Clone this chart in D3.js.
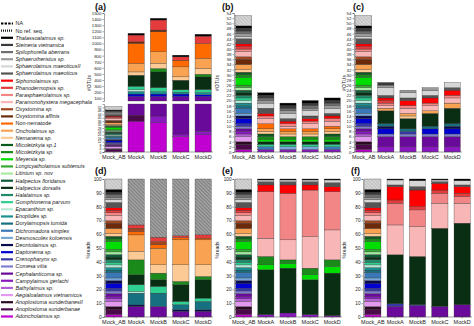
<!DOCTYPE html>
<html>
<head>
<meta charset="utf-8">
<script src="https://cdn.jsdelivr.net/npm/d3@7"></script>
<style>
  body { margin: 0; background: #fff; }
  svg { font-family: "Liberation Sans", Arial, sans-serif; }
</style>
</head>
<body>
<svg id="chart" width="474" height="326"></svg>
<script>
// species in legend order (stacked bottom -> top in reverse order)
const species = ["NA", "No ref. seq.", "Thalassoalaimus sp.", "Steineria vietnamica", "Spilophorella aberrans",
  "Sphaerotheristus sp.", "Sphaerolaimus maeoticusII", "Sphaerolaimus maeoticus", "Siphonolaimus sp.",
  "Phanodermopsis sp.", "Parasphaerolaimus sp.", "Paramonohystera megacephala", "Oxystomina sp.",
  "Oxystomina affinis", "Non-nematode", "Oncholaimus sp.", "Nemanema sp.", "Micoletzkyia sp.1",
  "Micoletzkyia sp.", "Meyersia sp.", "Longicyatholaimus subtenuis", "Litinium sp. nov", "Halipectus floridanus",
  "Halipectus dorsalis", "Halalaimus sp.", "Gomphionema parvum", "Epacanthion sp.", "Enoplides sp.",
  "Dorylaimopsis tumida", "Dichromadora simplex", "Desmoscolex koloensis", "Deontolaimus sp.", "Daptonema sp.",
  "Crenopharynx sp.", "Comesa vitia", "Cephalanticoma sp.", "Campylaimus gerlachi", "Bathylaimus sp.",
  "Aegialoalaimus vietnamicus", "Anoplostoma sunderbanesII", "Anoplostoma sunderbanae", "Adoncholaimus sp."];

const speciesColors = ["#999", "#ccc", "#000000", "#3a3a3a", "#6e6e6e", "#9a9a9a", "#d6d6d6", "#555555",
  "#ff0000", "#e43c3c", "#f28585", "#f9b6b6", "#a2461e", "#6b2a0a", "#ff6a00", "#f8a252", "#fcca94",
  "#0b5a20", "#1a8a1a", "#00dd00", "#33aa33", "#a8eaa0", "#0d5c3a", "#0a2e14", "#1f8a6a", "#2ecf90",
  "#b8e8d8", "#1a9090", "#167080", "#3a78b8", "#78a8d8", "#0a0a50", "#0000d0", "#3838a8", "#8080d0",
  "#6a0a9a", "#8a1ac0", "#b060d0", "#e499f0", "#2a0a20", "#4a0a4a", "#c000d0"];

const samples = ["Mock_AB", "MockA", "MockB", "MockC", "MockD"];

// mock community composition (#OTUs per species, legend order)
const mockAB = [0, 4, 1, 1, 1, 1, 1, 2, 1, 1, 1, 2, 1, 2, 0, 2, 1, 1, 1, 3, 1, 1, 1, 1, 1, 1, 1, 1, 1, 2,
  1, 1, 2, 1, 1, 1, 1, 1, 2, 1, 2, 1];

// [species index, value]
// (a) #OTUs, all
const aMockA = [[41, 36], [40, 7], [35, 87], [32, 40], [27, 43], [26, 27], [25, 58], [23, 181], [16, 54], [15, 139], [14, 329], [13, 26], [9, 111], [2, 28]];
const aMockB = [[41, 34], [36, 8], [35, 88], [32, 40], [27, 40], [25, 66], [23, 257], [18, 56], [16, 83], [15, 191], [14, 329], [13, 28], [9, 165], [2, 28]];
const aMockC = [[41, 18], [36, 3], [35, 109], [32, 40], [27, 30], [25, 40], [23, 157], [16, 55], [15, 164], [14, 110], [9, 54], [2, 28]];
const aMockD = [[41, 20], [36, 4], [35, 106], [32, 30], [27, 35], [25, 49], [23, 207], [18, 44], [16, 94], [15, 165], [14, 247], [9, 120], [2, 30]];
// (b) #OTUs
const bMockA = [[36, 1], [29, 1], [25, 1], [23, 1], [19, 1], [18, 1], [17, 1], [16, 1], [15, 1], [14, 2], [11, 2], [10, 1], [8, 1], [7, 2], [6, 2], [5, 1], [4, 1], [3, 1], [2, 1]];
const bMockB = [[36, 1], [30, 1], [25, 1], [23, 1], [19, 1], [18, 1], [16, 1], [15, 1], [14, 1], [11, 1], [10, 1], [8, 1], [7, 1], [6, 2], [5, 1], [4, 1], [3, 1], [2, 1]];
const bMockC = [[36, 1], [30, 1], [25, 1], [23, 1], [19, 1], [18, 1], [16, 1], [15, 1], [14, 1], [11, 2], [10, 1], [8, 1], [7, 1], [6, 2], [5, 1], [4, 1], [3, 1], [2, 1]];
const bMockD = [[36, 1], [29, 1], [25, 1], [23, 1], [19, 1], [18, 1], [17, 1], [16, 1], [15, 1], [14, 1], [11, 2], [10, 1], [8, 1], [7, 1], [6, 2], [5, 1], [4, 1], [3, 1], [2, 1]];
// (c) #OTUs
const cMockA = [[36, 2], [35, 4], [34, 1], [32, 2], [31, 1], [28, 1], [23, 5], [15, 1], [11, 1], [10, 1], [9, 1], [8, 1], [7, 1], [6, 3], [5, 1], [3, 1]];
const cMockB = [[36, 2], [35, 4], [34, 1], [33, 1], [28, 1], [23, 4], [16, 1], [15, 1], [11, 2], [10, 1], [8, 2], [7, 1], [6, 2], [5, 1]];
const cMockC = [[36, 2], [35, 4], [34, 1], [32, 2], [28, 1], [23, 5], [15, 1], [11, 2], [10, 1], [8, 2], [7, 1], [6, 2], [5, 1]];
const cMockD = [[36, 2], [35, 4], [34, 1], [32, 2], [31, 1], [28, 1], [23, 6], [15, 2], [11, 2], [10, 1], [8, 2], [7, 1], [6, 2]];
// (d) %reads
const dMockA = [[35, 7.7], [31, 1], [28, 8.6], [26, 1.2], [25, 4.9], [23, 7.2], [18, 10.8], [16, 6.1], [15, 12], [14, 2.4], [12, 2.4], [9, 2.4], [0, 33.3]];
const dMockB = [[35, 7.7], [28, 9.6], [25, 4.9], [23, 4.8], [18, 4.8], [16, 6], [15, 12.1], [14, 2.4], [12, 2.4], [9, 3.1], [0, 42.2]];
const dMockC = [[35, 4.1], [31, 1.2], [28, 3.6], [25, 2.4], [23, 12.1], [18, 2.4], [16, 12], [15, 18.1], [14, 1.7], [9, 1.2], [0, 41.2]];
const dMockD = [[35, 4.1], [31, 1.2], [28, 6], [25, 2.4], [23, 13.3], [18, 2.4], [16, 8.4], [15, 18.1], [14, 1.2], [9, 2.4], [0, 40.5]];
// (e) %reads
const eMockA = [[36, 1.7], [23, 32.5], [19, 3.6], [18, 6.1], [11, 13.2], [10, 33.7], [8, 4.9], [7, 2.3], [6, 1.3], [2, 0.7]];
const eMockB = [[36, 2.9], [23, 32.5], [19, 3.2], [18, 2.8], [11, 14.5], [10, 33.7], [8, 6.1], [7, 2.3], [6, 1.3], [2, 0.7]];
const eMockC = [[36, 1.7], [23, 25.3], [19, 3.6], [18, 4.8], [11, 22.9], [10, 33.7], [8, 3.7], [7, 2.3], [6, 1.3], [2, 0.7]];
const eMockD = [[36, 1], [23, 30.8], [19, 4.8], [18, 4.8], [11, 21.7], [10, 27.7], [8, 3.7], [7, 2.8], [6, 2], [2, 0.7]];
// (f) %reads
const fMockA = [[35, 7.7], [33, 1.9], [23, 35.5], [11, 21.6], [10, 15.7], [9, 2.4], [8, 9.7], [7, 1.2], [6, 3.6], [2, 0.7]];
const fMockB = [[35, 8.2], [33, 0.7], [23, 35], [11, 21.6], [10, 12.1], [9, 2.4], [8, 12], [7, 2.5], [6, 4.3], [2, 1.2]];
const fMockC = [[35, 7.7], [23, 56.6], [11, 18.1], [10, 7.2], [9, 2.4], [8, 4.9], [7, 1.2], [6, 1.2], [2, 0.7]];
const fMockD = [[35, 8.9], [23, 59.1], [11, 14.4], [10, 4.8], [9, 2.4], [8, 4.9], [7, 1.2], [6, 3.1], [2, 1.2]];

const svg = d3.select("#chart");
const defs = svg.append("defs");

// hatch fills for NA / No ref. seq.
function hatch(id, bg, fg) {
  const p = defs.append("pattern").attr("id", id)
    .attr("patternUnits", "userSpaceOnUse")
    .attr("width", 2.5).attr("height", 2.5)
    .attr("patternTransform", "rotate(-45)");
  p.append("rect").attr("width", 2.5).attr("height", 2.5).attr("fill", bg);
  p.append("line").attr("x1", 0).attr("y1", 0).attr("x2", 0).attr("y2", 2.5)
    .attr("stroke", fg).attr("stroke-width", 0.8);
}
hatch("hNA", "#a0a0a0", "#555");
hatch("hNoRef", "#d4d4d4", "#a0a0a0");

const fillOf = i => i === 0 ? "url(#hNA)" : i === 1 ? "url(#hNoRef)" : speciesColors[i];

// build rows for d3.stack
function makeRow(name, pairs) {
  const r = { sample: name };
  species.forEach((s, i) => r[i] = 0);
  pairs.forEach(([i, v]) => r[i] += v);
  return r;
}
const abPairs = mockAB.map((v, i) => [i, v]);
const abPct = mockAB.map((v, i) => [i, v * 100 / d3.sum(mockAB)]);
const stackKeys = d3.range(species.length - 1, -1, -1);
const stack = d3.stack().keys(stackKeys);

function rowsOf(ab, list) {
  return [makeRow("Mock_AB", ab)].concat(list.map((p, j) => makeRow(samples[j + 1], p)));
}

function drawPanel(cfg) {
  const g = svg.append("g");
  const x = d3.scaleBand().domain(samples).range([cfg.left + 1, cfg.right])
    .paddingInner(0.27).paddingOuter(0.03);
  const series = stack(cfg.rows);

  // each y segment (panel a has a broken axis)
  cfg.segments.forEach(sg => {
    series.forEach(s => {
      const k = s.key;
      g.selectAll(null).data(s.filter(d => Math.min(d[1], sg.hi) > Math.max(d[0], sg.lo)))
        .join("rect")
        .attr("x", d => x(d.data.sample))
        .attr("width", x.bandwidth())
        .attr("y", d => sg.y(Math.min(d[1], sg.hi)))
        .attr("height", d => sg.y(Math.max(d[0], sg.lo)) - sg.y(Math.min(d[1], sg.hi)))
        .attr("fill", fillOf(+k))
        .attr("stroke", "#2a2a2a")
        .attr("stroke-width", 0.3);
    });
    const ax = g.append("g").attr("transform", `translate(${cfg.left},0)`)
      .call(d3.axisLeft(sg.y).tickValues(sg.ticks).tickFormat(d3.format("d"))
        .tickSize(1.5).tickPadding(1));
    ax.selectAll("text").attr("font-size", sg.fs || 4.4).attr("fill", "#222");
    ax.selectAll("line, path").attr("stroke", "#444").attr("stroke-width", 0.5);
  });

  // x baseline + labels
  const xa = g.append("g").attr("transform", `translate(0,${cfg.bottom})`)
    .call(d3.axisBottom(x).tickSize(1.5).tickPadding(1.5).tickSizeOuter(0));
  xa.select(".domain").attr("d", `M${cfg.left},0H${cfg.right + 1}`);
  xa.selectAll("line, path").attr("stroke", "#444").attr("stroke-width", 0.5);
  xa.selectAll("text").attr("font-size", 5.5).attr("fill", "#222");

  g.append("text").attr("x", cfg.labelX).attr("y", cfg.labelY)
    .attr("font-size", 9).attr("font-weight", "bold").attr("fill", "#111").text(cfg.label);
  g.append("text")
    .attr("transform", `translate(${cfg.titleX},${cfg.titleY}) rotate(-90)`)
    .attr("text-anchor", "middle").attr("font-size", 5).attr("fill", "#222").text(cfg.title);
}

// scales
const yOtu = d3.scaleLinear().domain([0, 54]).range([152, 13]);
const yLow = d3.scaleLinear().domain([0, 56]).range([152, 104]);
const yHigh = d3.scaleLinear().domain([56, 1500]).range([101, 13]);
const yPct = d3.scaleLinear().domain([0, 100]).range([317, 179]);

drawPanel({
  label: "(a)", labelX: 95, labelY: 10, title: "#OTUs", titleX: 91, titleY: 83,
  left: 104, right: 212, bottom: 152,
  rows: rowsOf(abPairs, [aMockA, aMockB, aMockC, aMockD]),
  segments: [
    { y: yLow, lo: 0, hi: 56, ticks: d3.range(0, 56, 4), fs: 3.4 },
    { y: yHigh, lo: 56, hi: 1500, ticks: d3.range(100, 1501, 100), fs: 4.4 }
  ]
});
drawPanel({
  label: "(b)", labelX: 222, labelY: 10, title: "#OTUs", titleX: 219, titleY: 83,
  left: 234, right: 341, bottom: 152,
  rows: rowsOf(abPairs, [bMockA, bMockB, bMockC, bMockD]),
  segments: [{ y: yOtu, lo: 0, hi: 54, ticks: d3.range(0, 55, 2) }]
});
drawPanel({
  label: "(c)", labelX: 353, labelY: 10, title: "#OTUs", titleX: 346, titleY: 83,
  left: 354, right: 461, bottom: 152,
  rows: rowsOf(abPairs, [cMockA, cMockB, cMockC, cMockD]),
  segments: [{ y: yOtu, lo: 0, hi: 54, ticks: d3.range(0, 55, 2) }]
});
drawPanel({
  label: "(d)", labelX: 95, labelY: 174, title: "%reads", titleX: 90, titleY: 250,
  left: 104, right: 212, bottom: 317,
  rows: rowsOf(abPct, [dMockA, dMockB, dMockC, dMockD]),
  segments: [{ y: yPct, lo: 0, hi: 100, ticks: d3.range(0, 101, 10), fs: 4.7 }]
});
drawPanel({
  label: "(e)", labelX: 222, labelY: 174, title: "%reads", titleX: 219, titleY: 250,
  left: 234, right: 341, bottom: 317,
  rows: rowsOf(abPct, [eMockA, eMockB, eMockC, eMockD]),
  segments: [{ y: yPct, lo: 0, hi: 100, ticks: d3.range(0, 101, 10), fs: 4.7 }]
});
drawPanel({
  label: "(f)", labelX: 351, labelY: 174, title: "%reads", titleX: 346, titleY: 250,
  left: 363, right: 471, bottom: 317,
  rows: rowsOf(abPct, [fMockA, fMockB, fMockC, fMockD]),
  segments: [{ y: yPct, lo: 0, hi: 100, ticks: d3.range(0, 101, 10), fs: 4.7 }]
});

// legend
const legY = d3.scalePoint().domain(d3.range(species.length)).range([23.5, 316.5]);
const leg = svg.append("g");
species.forEach((name, i) => {
  const y = legY(i);
  const ln = leg.append("line").attr("x1", 1).attr("x2", 13).attr("y1", y).attr("y2", y)
    .attr("stroke-width", 2.2);
  if (i === 0) ln.attr("stroke", "#000").attr("stroke-dasharray", "2.4,1.2");
  else if (i === 1) ln.attr("stroke", "#222").attr("stroke-dasharray", "1,1");
  else ln.attr("stroke", speciesColors[i]);
  leg.append("text").attr("x", 15.5).attr("y", y).attr("dy", "0.35em")
    .attr("font-size", 5.4).attr("fill", "#222")
    .attr("font-style", i > 1 && i !== 14 ? "italic" : "normal")
    .text(name);
});
</script>
</body>
</html>
